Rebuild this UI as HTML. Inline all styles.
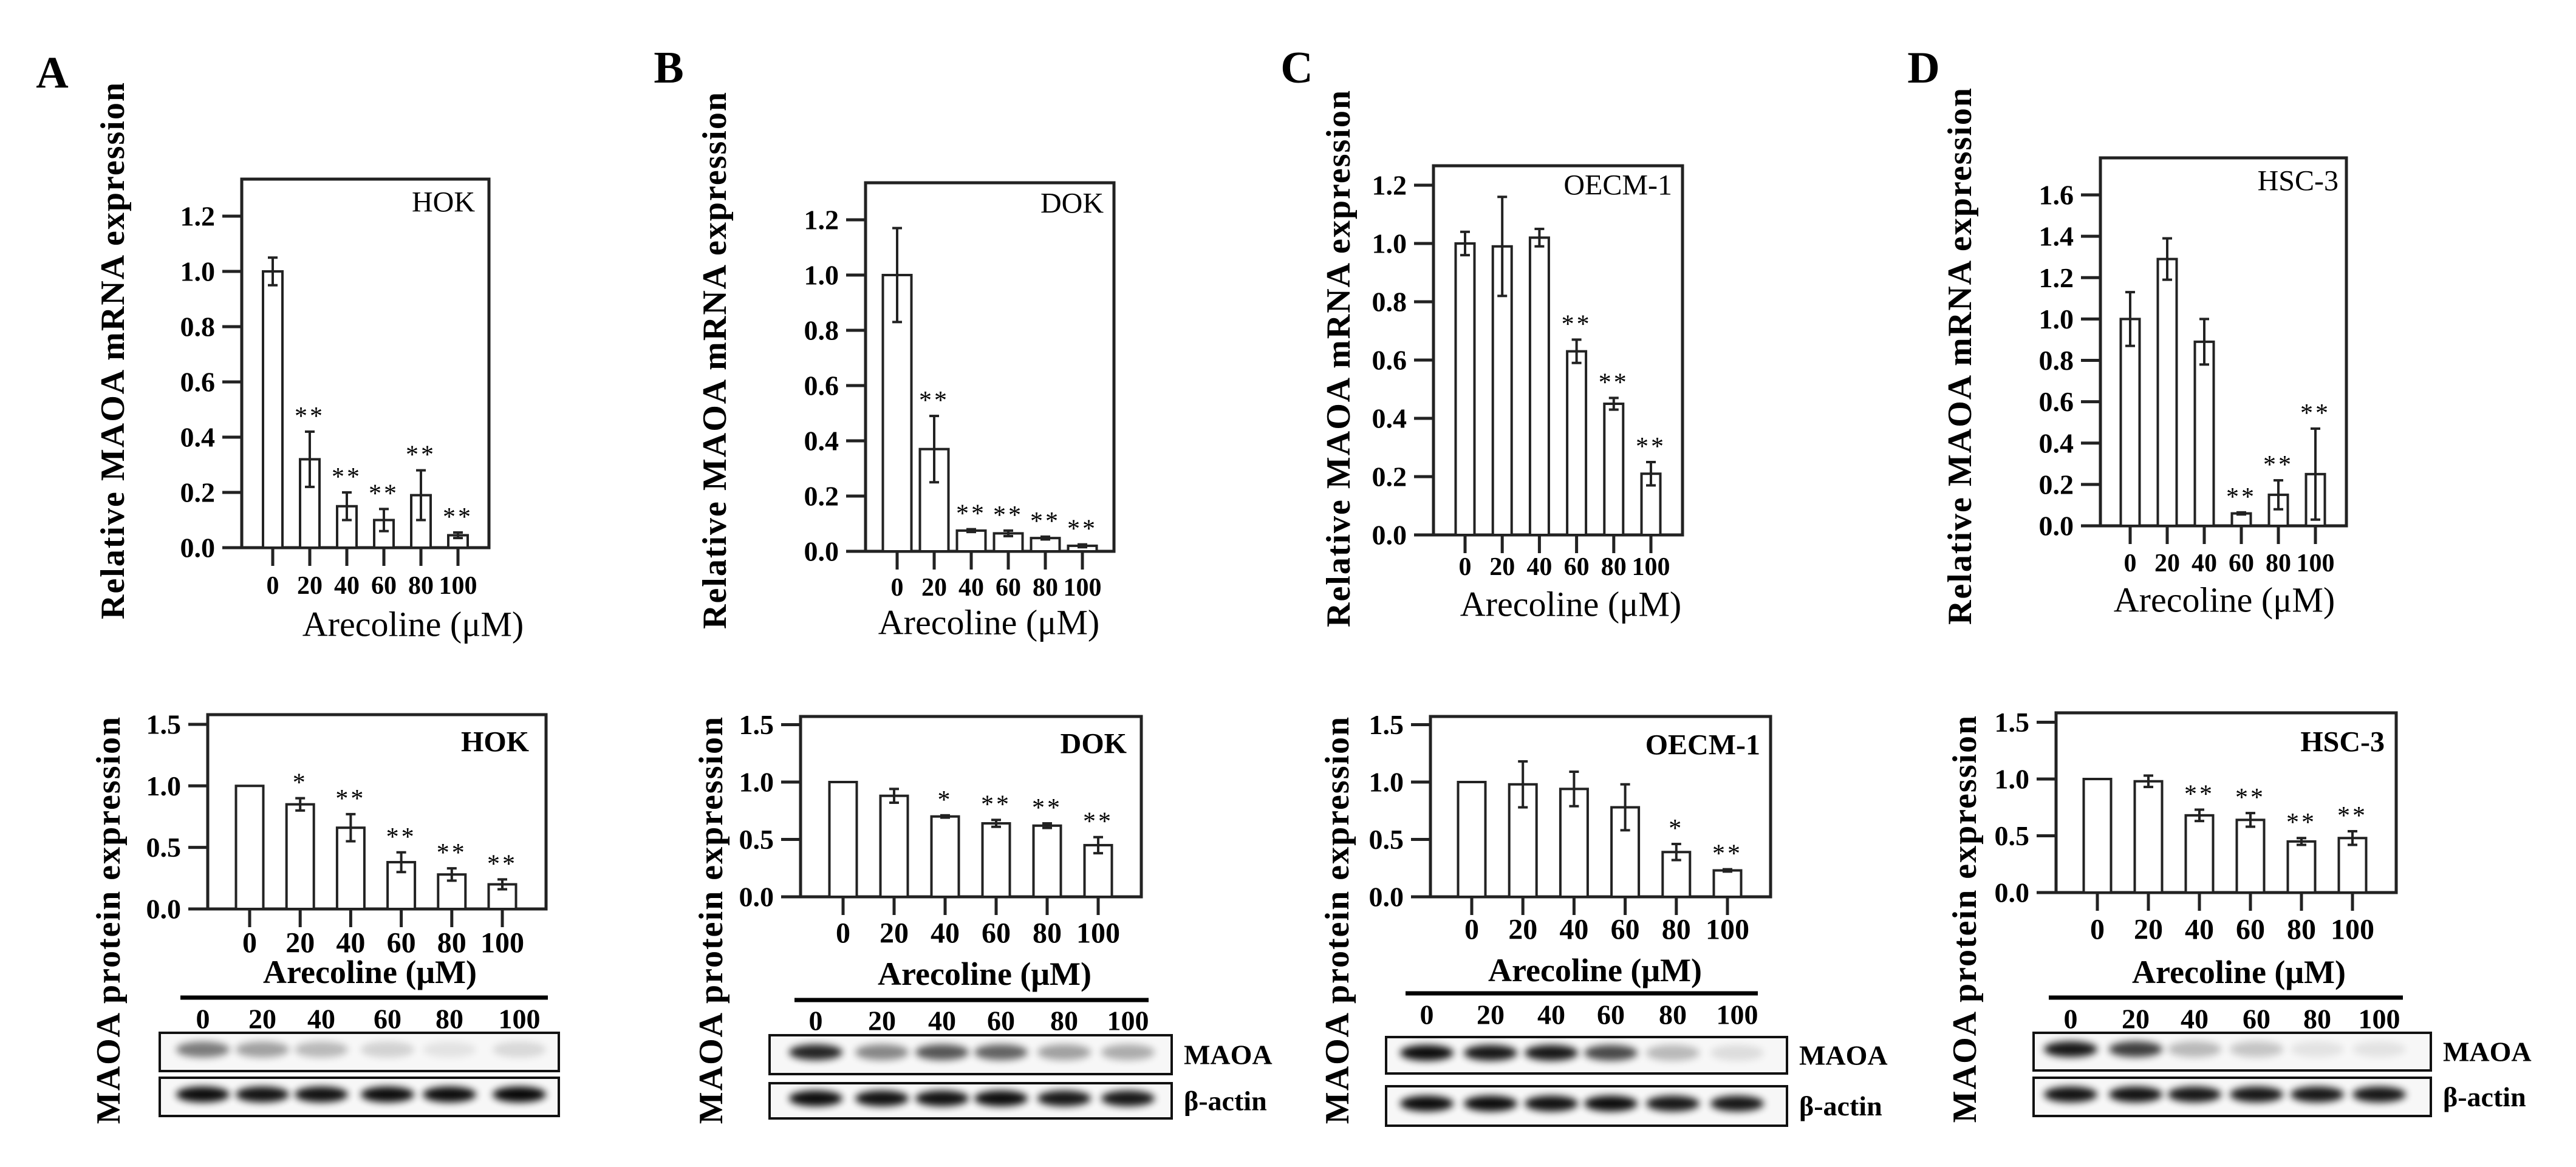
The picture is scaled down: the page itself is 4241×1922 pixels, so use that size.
<!DOCTYPE html>
<html><head><meta charset="utf-8"><style>
html,body{margin:0;padding:0;background:#fff;}
svg{display:block;font-family:"Liberation Serif",serif;}
</style></head><body>
<svg id="fig" xmlns="http://www.w3.org/2000/svg" width="4241" height="1922" viewBox="0 0 4241 1922">
<defs><filter id="blur" x="-50%" y="-100%" width="200%" height="300%"><feGaussianBlur stdDeviation="6"/></filter></defs>
<rect width="4241" height="1922" fill="#fff"/>
</svg>
<script>
// ---- data ----
const concentrations = ["0","20","40","60","80","100"];
const mrnaTicks = ["0.0","0.2","0.4","0.6","0.8","1.0","1.2"];
const mrnaTicksD = ["0.0","0.2","0.4","0.6","0.8","1.0","1.2","1.4","1.6"];
const proteinTicks = ["0.0","0.5","1.0","1.5"];
const cellLines = ["HOK","DOK","OECM-1","HSC-3"];
const panelLetters = ["A","B","C","D"];

const mrnaHOK = [1.0,0.32,0.15,0.10,0.19,0.045];
const mrnaHOKErr = [0.05,0.10,0.05,0.04,0.09,0.01];
const mrnaDOK = [1.0,0.37,0.075,0.065,0.048,0.02];
const mrnaDOKErr = [0.17,0.12,0.005,0.01,0.005,0.005];
const mrnaOECM = [1.0,0.99,1.02,0.63,0.45,0.21];
const mrnaOECMErr = [0.04,0.17,0.03,0.04,0.02,0.04];
const mrnaHSC = [1.0,1.29,0.89,0.06,0.15,0.25];
const mrnaHSCErr = [0.13,0.10,0.11,0.005,0.07,0.22];
const mrnaStarsHOK = ["","**","**","**","**","**"];
const mrnaStarsDOK = ["","**","**","**","**","**"];
const mrnaStarsOECM = ["","","","**","**","**"];
const mrnaStarsHSC = ["","","","**","**","**"];

const protHOK = [1.0,0.85,0.66,0.38,0.28,0.20];
const protHOKErr = [0,0.05,0.11,0.08,0.05,0.04];
const protDOK = [1.0,0.88,0.70,0.64,0.62,0.45];
const protDOKErr = [0,0.06,0.01,0.03,0.02,0.07];
const protOECM = [1.0,0.98,0.94,0.78,0.39,0.23];
const protOECMErr = [0,0.20,0.15,0.20,0.07,0.01];
const protHSC = [1.0,0.98,0.68,0.64,0.45,0.48];
const protHSCErr = [0,0.05,0.05,0.06,0.03,0.06];
const protStarsHOK = ["","*","**","**","**","**"];
const protStarsDOK = ["","","*","**","**","**"];
const protStarsOECM = ["","","","","*","**"];
const protStarsHSC = ["","","**","**","**","**"];

const maoaBandHOK = [0.5,0.35,0.25,0.15,0.08,0.12];
const maoaBandDOK = [0.85,0.45,0.65,0.6,0.35,0.3];
const maoaBandOECM = [0.95,0.9,0.9,0.7,0.25,0.1];
const maoaBandHSC = [0.9,0.75,0.25,0.2,0.08,0.08];
const actinBandHOK = [0.95,0.92,0.93,0.95,0.95,0.97];
const actinBandDOK = [0.95,0.93,0.93,0.95,0.9,0.9];
const actinBandOECM = [0.95,0.95,0.93,0.95,0.9,0.9];
const actinBandHSC = [0.92,0.92,0.9,0.9,0.9,0.9];

// ---- drawing ----
const svg = document.getElementById('fig');
const NS = 'http://www.w3.org/2000/svg';
function mk(tag, attrs, parent){
  const e = document.createElementNS(NS, tag);
  for (const k in attrs) e.setAttribute(k, attrs[k]);
  (parent||svg).appendChild(e);
  return e;
}
function txt(s, attrs, parent){ const t = mk('text', attrs, parent); t.textContent = s; return t; }

function barChart(name, vals, errs, stars, ticks, tickStep, cfg, bold){
  const grp = mk('g', {}, svg);
  
  
  const yOf = v => cfg.y0 - v * cfg.ppu;
  const xOf = i => cfg.c0 + i * cfg.sp;
  const frame = mk('rect', {x:cfg.x0, y:cfg.top, width:cfg.x1-cfg.x0, height:cfg.y0-cfg.top, fill:'none', stroke:'#222', 'stroke-width':5}, grp);
  
  
  mk('line', {x1:cfg.x0-32, x2:cfg.x0, y1:cfg.y0, y2:cfg.y0, stroke:'#222','stroke-width':5}, grp);
  ticks.forEach((t, i) => {
    const y = yOf(i * tickStep);
    mk('line', {x1:cfg.x0-32, x2:cfg.x0, y1:y, y2:y, stroke:'#222','stroke-width':5}, grp);
    const tl = txt(t, {x:cfg.x0-44, y:y, 'text-anchor':'end', 'dominant-baseline':'central', 'font-size':46, 'font-weight':'bold'}, grp);
    
    
  });
  vals.forEach((v, i) => {
    const cx = xOf(i);
    const b = mk('rect', {x:cx-cfg.w/2, y:yOf(v), width:cfg.w, height:cfg.y0-yOf(v), fill:'#fff', stroke:'#222', 'stroke-width':4}, grp);
    
    
    const e = errs[i];
    if (e > 0) {
      const eg = mk('g', {stroke:'#222','stroke-width':4}, grp);
      
      
      mk('line', {x1:cx, x2:cx, y1:yOf(v+e), y2:yOf(Math.max(0,v-e))}, eg);
      mk('line', {x1:cx-8, x2:cx+8, y1:yOf(v+e), y2:yOf(v+e)}, eg);
      mk('line', {x1:cx-8, x2:cx+8, y1:yOf(Math.max(0,v-e)), y2:yOf(Math.max(0,v-e))}, eg);
    }
    if (stars[i]) {
      const st = txt(stars[i], {x:cx, y:yOf(v+e)-12, 'text-anchor':'middle', 'font-size':42, 'letter-spacing':4}, grp);
      
      
    }
    mk('line', {x1:cx, x2:cx, y1:cfg.y0, y2:cfg.y0+30, stroke:'#222','stroke-width':5}, grp);
    const xl = txt(concentrations[i], {x:cx, y:cfg.xlY, 'text-anchor':'middle', 'dominant-baseline':'central', 'font-size':cfg.xlFs, 'font-weight':'bold'}, grp);
    
    
  });
  const cl = txt(cfg.cell, {x:cfg.cellX, y:cfg.cellY, 'text-anchor':'end', 'dominant-baseline':'central', 'font-size':48, 'font-weight':bold?'bold':'normal'}, grp);
  
  
  const xt = txt('Arecoline (\u03bcM)', {x:cfg.xtX, y:cfg.xtY, 'text-anchor':'middle', 'dominant-baseline':'central', 'font-size':bold?54:58, 'font-weight':bold?'bold':'normal'}, grp);
  
  
  const yg = mk('g', {transform:'translate(' + cfg.ytX + ' ' + cfg.ytY + ') rotate(-90)'}, grp);
  const yt = txt(cfg.yTitle, {x:0, y:18, 'text-anchor':'middle', 'font-size':cfg.ytFs, 'font-weight':'bold', 'letter-spacing':cfg.ytLs}, yg);
  
  
}

function blot(name, maoa, actin, cfg, withLabels){
  const grp = mk('g', {}, svg);
  
  
  mk('line', {x1:cfg.lx0, x2:cfg.lx1, y1:cfg.lineY, y2:cfg.lineY, stroke:'#000','stroke-width':7}, grp);
  cfg.lanes.forEach((x, i) => {
    const n = txt(concentrations[i], {x:x, y:cfg.numY, 'text-anchor':'middle','dominant-baseline':'central','font-size':46,'font-weight':'bold'}, grp);
    
    
  });
  [[maoa, cfg.b1, 'maoa'], [actin, cfg.b2, 'actin']].forEach(([arr, box, lab]) => {
    const bg = mk('g', {}, grp);
    
    
    mk('rect', {x:cfg.bx0, y:box[0], width:cfg.bx1-cfg.bx0, height:box[1]-box[0], fill:'#f7f7f7', stroke:'#111','stroke-width':4}, bg);
    const cy = (box[0]+box[1])/2 - 4;
    arr.forEach((a, i) => {
      const band = mk('ellipse', {cx:cfg.lanes[i], cy:cy, rx:44, ry:13, fill:'#000', opacity:a, filter:'url(#blur)'}, bg);
      
      
    });
  });
  if (withLabels) {
    const m = txt('MAOA', {x:cfg.bx1+20, y:(cfg.b1[0]+cfg.b1[1])/2, 'dominant-baseline':'central','font-size':46,'font-weight':'bold'}, grp);
    
    
    const b = txt('\u03b2-actin', {x:cfg.bx1+20, y:(cfg.b2[0]+cfg.b2[1])/2, 'dominant-baseline':'central','font-size':46,'font-weight':'bold'}, grp);
    
    
  }
}

[[86,120],[1101,112],[2135,112],[3167,112]].forEach((p, i) => {
  const t = txt(panelLetters[i], {x:p[0], y:p[1], 'text-anchor':'middle','dominant-baseline':'central','font-size':74,'font-weight':'bold'});
  
  
});

const mT = 'Relative MAOA mRNA expression', pT = 'MAOA protein expression';
barChart('mrna-chart-hok', mrnaHOK, mrnaHOKErr, mrnaStarsHOK, mrnaTicks, 0.2,
  {x0:398,x1:805,top:295,y0:902,ppu:455,c0:449,sp:61,w:32,xlY:965,xlFs:42,cell:cellLines[0],cellX:782,cellY:333,xtX:680,xtY:1028,yTitle:mT,ytFs:56,ytLs:2,ytX:186,ytY:577}, false);
barChart('mrna-chart-dok', mrnaDOK, mrnaDOKErr, mrnaStarsDOK, mrnaTicks, 0.2,
  {x0:1425,x1:1834,top:301,y0:908,ppu:455,c0:1477,sp:61,w:47,xlY:968,xlFs:42,cell:cellLines[1],cellX:1817,cellY:335,xtX:1628,xtY:1025,yTitle:mT,ytFs:56,ytLs:2,ytX:1177,ytY:593}, false);
barChart('mrna-chart-oecm1', mrnaOECM, mrnaOECMErr, mrnaStarsOECM, mrnaTicks, 0.2,
  {x0:2360,x1:2770,top:273,y0:881,ppu:480,c0:2412,sp:61.2,w:31,xlY:934,xlFs:42,cell:cellLines[2],cellX:2753,cellY:305,xtX:2586,xtY:995,yTitle:mT,ytFs:56,ytLs:2,ytX:2204,ytY:590}, false);
barChart('mrna-chart-hsc3', mrnaHSC, mrnaHSCErr, mrnaStarsHSC, mrnaTicksD, 0.2,
  {x0:3458,x1:3863,top:260,y0:866,ppu:340.6,c0:3507,sp:61,w:31,xlY:928,xlFs:42,cell:cellLines[3],cellX:3850,cellY:298,xtX:3662,xtY:988,yTitle:mT,ytFs:56,ytLs:2,ytX:3227,ytY:586}, false);

barChart('protein-chart-hok', protHOK, protHOKErr, protStarsHOK, proteinTicks, 0.5,
  {x0:342,x1:899,top:1177,y0:1497,ppu:202.7,c0:411,sp:83.2,w:45,xlY:1553,xlFs:48,cell:cellLines[0],cellX:871,cellY:1222,xtX:609,xtY:1601,yTitle:pT,ytFs:56,ytLs:2,ytX:179,ytY:1515}, true);
barChart('protein-chart-dok', protDOK, protDOKErr, protStarsDOK, proteinTicks, 0.5,
  {x0:1318,x1:1879,top:1180,y0:1477,ppu:189,c0:1388,sp:84,w:45,xlY:1537,xlFs:48,cell:cellLines[1],cellX:1855,cellY:1225,xtX:1621,xtY:1604,yTitle:pT,ytFs:56,ytLs:2,ytX:1171,ytY:1515}, true);
barChart('protein-chart-oecm1', protOECM, protOECMErr, protStarsOECM, proteinTicks, 0.5,
  {x0:2355,x1:2915,top:1180,y0:1477,ppu:189,c0:2423,sp:84.2,w:45,xlY:1531,xlFs:48,cell:cellLines[2],cellX:2898,cellY:1227,xtX:2626,xtY:1598,yTitle:pT,ytFs:56,ytLs:2,ytX:2202,ytY:1515}, true);
barChart('protein-chart-hsc3', protHSC, protHSCErr, protStarsHSC, proteinTicks, 0.5,
  {x0:3385,x1:3945,top:1174,y0:1470,ppu:187,c0:3453,sp:84,w:45,xlY:1531,xlFs:48,cell:cellLines[3],cellX:3926,cellY:1222,xtX:3686,xtY:1601,yTitle:pT,ytFs:56,ytLs:2,ytX:3235,ytY:1513}, true);

blot('western-blot-hok', maoaBandHOK, actinBandHOK,
  {lx0:297,lx1:902,lineY:1643,numY:1678,lanes:[334,432,529,638,740,855],bx0:263,bx1:920,b1:[1701,1764],b2:[1775,1838]}, false);
blot('western-blot-dok', maoaBandDOK, actinBandDOK,
  {lx0:1308,lx1:1891,lineY:1647,numY:1681,lanes:[1343,1452,1551,1648,1752,1857],bx0:1267,bx1:1929,b1:[1705,1769],b2:[1784,1842]}, true);
blot('western-blot-oecm1', maoaBandOECM, actinBandOECM,
  {lx0:2314,lx1:2894,lineY:1636,numY:1671,lanes:[2349,2454,2554,2652,2754,2860],bx0:2282,bx1:2942,b1:[1708,1768],b2:[1789,1854]}, true);
blot('western-blot-hsc3', maoaBandHSC, actinBandHSC,
  {lx0:3373,lx1:3956,lineY:1643,numY:1678,lanes:[3409,3516,3613,3715,3815,3917],bx0:3348,bx1:4002,b1:[1701,1763],b2:[1775,1838]}, true);
</script>
</body></html>
